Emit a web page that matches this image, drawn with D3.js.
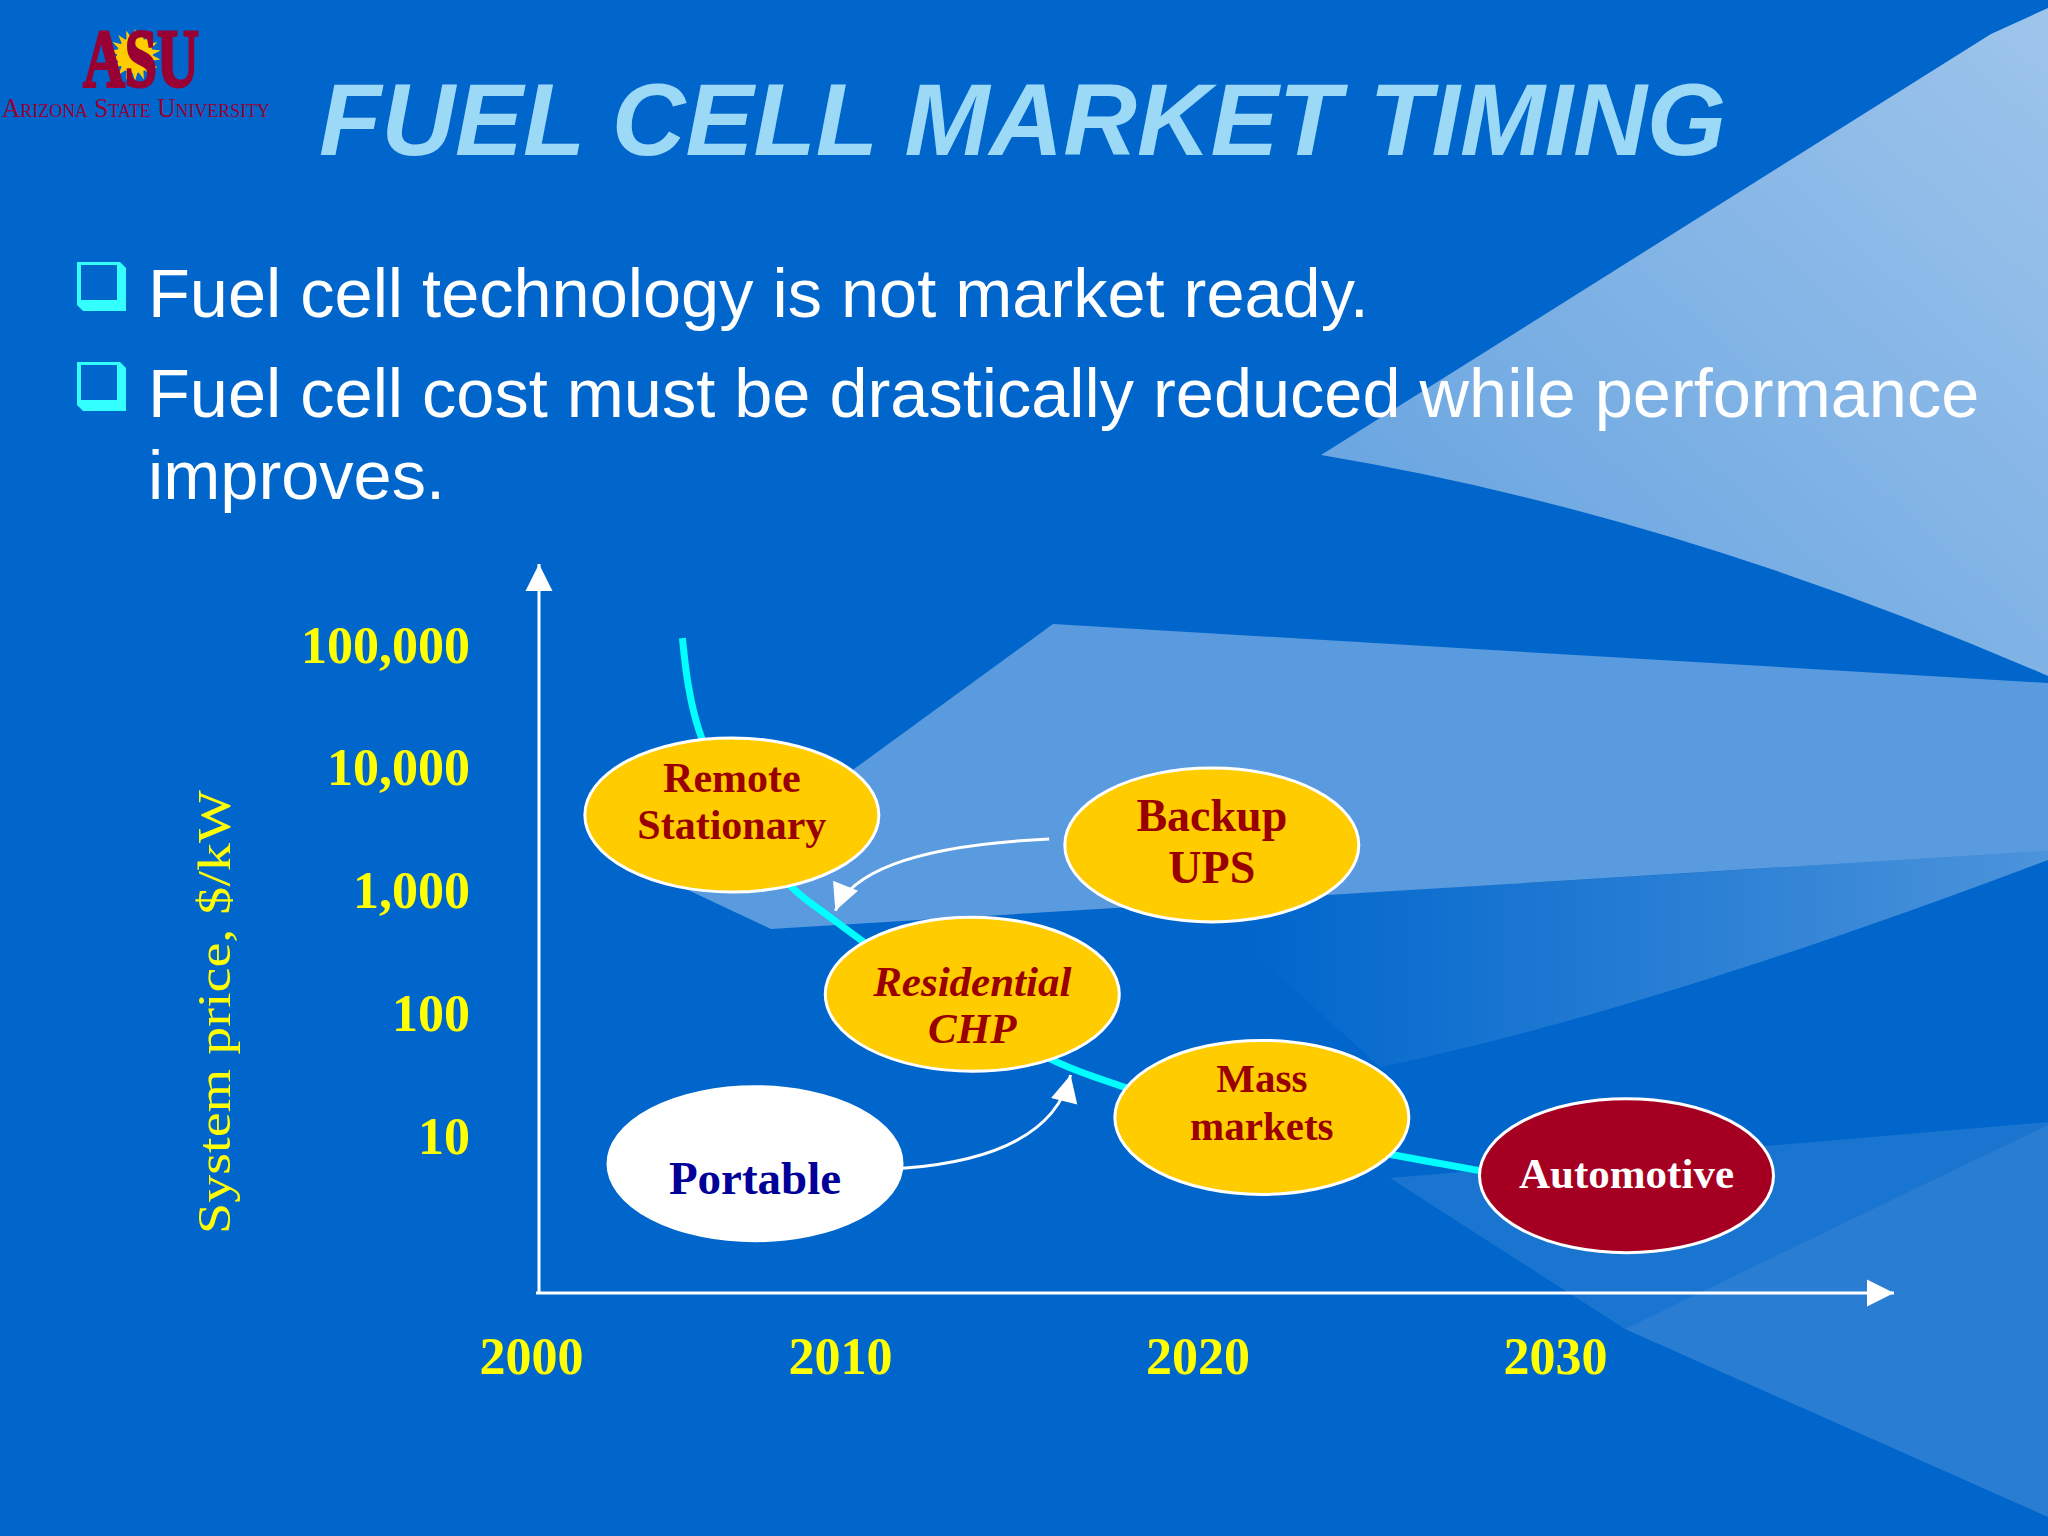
<!DOCTYPE html>
<html>
<head>
<meta charset="utf-8">
<script src="https://cdnjs.cloudflare.com/ajax/libs/d3/7.8.5/d3.min.js"></script>
<style>
  body { margin: 0; background: #0066cc; }
  svg { display: block; }
</style>
</head>
<body>
<div id="slide"></div>
<script>
// chart values
var yTicks = [10, 100, 1000, 10000, 100000];
var xTicks = [2000, 2010, 2020, 2030];

var curveYears  = [2004.9, 2005.05, 2005.25, 2005.55, 2006.85, 2008.4, 2009.65, 2013.35, 2016.1, 2018.0, 2021.6, 2025.45, 2028.0];
var curvePrices = [115000, 55000, 30000, 17000, 3900, 1100, 620, 110, 40, 25, 11.7, 7.1, 5.2];

var marketNames  = ["Remote Stationary", "Backup UPS", "Residential CHP", "Mass markets", "Portable", "Automotive"];
var marketLabels = [["Remote", "Stationary"], ["Backup", "UPS"], ["Residential", "CHP"], ["Mass", "markets"], ["Portable"], ["Automotive"]];
var marketYears  = [2006.5, 2020.4, 2013.7, 2021.8, 2007.25, 2032.0];
var marketPrices = [4160, 2370, 144, 14.3, 6.0, 4.8];

var arrowFromYears  = [2015.85, 2011.75];
var arrowFromPrices = [2650, 5.5];
var arrowToYears    = [2009.85, 2016.45];
var arrowToPrices   = [690, 31.7];

var bulletLines = ["Fuel cell technology is not market ready.",
                   "Fuel cell cost must be drastically reduced while performance",
                   "improves."];
var bulletMarks = [true, true, false];

// layout / styles
var svgWidth = 2048;
var svgHeight = 1536;
var lineY = [317, 417, 499];
var frame = { left: 539, bottom: 1293, top: 564, right: 1894, start: 536 };

var marketStyle = {
  "Remote Stationary": { fill: "#ffcc00", color: "#990000", size: 42, italic: false, first: -23, lh: 47 },
  "Backup UPS":        { fill: "#ffcc00", color: "#990000", size: 46, italic: false, first: -14, lh: 52 },
  "Residential CHP":   { fill: "#ffcc00", color: "#990000", size: 43, italic: true,  first: 2,   lh: 47 },
  "Mass markets":      { fill: "#ffcc00", color: "#990000", size: 41, italic: false, first: -25, lh: 48 },
  "Portable":          { fill: "#ffffff", color: "#000099", size: 47, italic: false, first: 30,  lh: 0 },
  "Automotive":        { fill: "#a50021", color: "#ffffff", size: 43, italic: false, first: 12,  lh: 0 }
};

var svg = d3.select("#slide")
  .append("svg")
  .attr("width", svgWidth)
  .attr("height", svgHeight);

var defs = svg.append("defs");

var gA = defs.append("linearGradient").attr("id", "gradA")
  .attr("x1", 1).attr("y1", 0).attr("x2", 0).attr("y2", 1);
gA.append("stop").attr("offset", 0).attr("stop-color", "#fff").attr("stop-opacity", 0.62);
gA.append("stop").attr("offset", 1).attr("stop-color", "#fff").attr("stop-opacity", 0.38);

var gC = defs.append("linearGradient").attr("id", "gradC")
  .attr("gradientUnits", "userSpaceOnUse")
  .attr("x1", 1250).attr("y1", 0).attr("x2", 2048).attr("y2", 0);
gC.append("stop").attr("offset", 0).attr("stop-color", "#fff").attr("stop-opacity", 0);
gC.append("stop").attr("offset", 1).attr("stop-color", "#fff").attr("stop-opacity", 0.3);

defs.append("marker")
  .attr("id", "head")
  .attr("markerUnits", "userSpaceOnUse")
  .attr("viewBox", "-28 -14 30 28")
  .attr("markerWidth", 30)
  .attr("markerHeight", 28)
  .attr("refX", 0)
  .attr("refY", 0)
  .attr("orient", "auto")
  .append("path")
  .attr("d", "M0,0L-27,-13.5L-27,13.5Z")
  .attr("fill", "#fff");

// background
svg.append("rect").attr("width", svgWidth).attr("height", svgHeight).attr("fill", "#0066cc");

var deco = svg.append("g");
deco.append("path").attr("d", "M1321,455L1991,34L2048,8L2048,676Q1675,514 1321,455Z").attr("fill", "url(#gradA)");
deco.append("path").attr("d", "M1053,624L2048,683L2048,851L771,929L688,890Z").attr("fill", "#fff").attr("opacity", 0.35);
deco.append("path").attr("d", "M1200,903L2048,851L2048,860Q1646,1012 1380,1067Z").attr("fill", "url(#gradC)");
deco.append("path").attr("d", "M1390,1178L2048,1122L2048,1125Q1909,1191 1625,1329Z").attr("fill", "#fff").attr("opacity", 0.1);
deco.append("path").attr("d", "M1625,1329Q1909,1191 2048,1125L2048,1517Z").attr("fill", "#fff").attr("opacity", 0.16);

// logo
var logo = svg.append("g");
logo.selectAll("path.ray")
  .data(d3.range(18))
  .enter()
  .append("path")
  .attr("class", "ray")
  .attr("transform", function(d) { return "translate(135,55) rotate(" + (d * 20) + ")"; })
  .attr("d", "M-3,-16L0,-26L3,-16Z")
  .attr("fill", "#ffcc00");
logo.append("circle").attr("cx", 135).attr("cy", 55).attr("r", 18).attr("fill", "#ffcc00");
logo.append("text").attr("x", 83).attr("y", 86).text("ASU")
  .attr("font-family", "Liberation Serif").attr("font-weight", "bold").attr("font-size", 82)
  .attr("fill", "#990033").attr("stroke", "#990033").attr("stroke-width", 3)
  .attr("textLength", 116).attr("lengthAdjust", "spacingAndGlyphs");
logo.append("text").attr("x", 2).attr("y", 117).text("Arizona State University")
  .attr("font-family", "Liberation Serif").attr("font-size", 27)
  .style("font-variant", "small-caps")
  .attr("fill", "#990033").attr("textLength", 268).attr("lengthAdjust", "spacingAndGlyphs");

// title
svg.append("text")
  .attr("x", 319)
  .attr("y", 155)
  .text("FUEL CELL MARKET TIMING")
  .attr("font-family", "Liberation Sans")
  .attr("font-weight", "bold")
  .attr("font-style", "italic")
  .attr("font-size", 102)
  .attr("fill", "#9bd9f6");

// bullets
var bullets = svg.selectAll("g.bullet")
  .data(bulletLines)
  .enter()
  .append("g")
  .attr("class", "bullet")
  .attr("transform", function(d, i) { return "translate(0," + lineY[i] + ")"; });

bullets.filter(function(d, i) { return bulletMarks[i]; })
  .append("path")
  .attr("d", "M77,-55L120,-55L126,-49L126,-6L83,-6L77,-12Z")
  .attr("fill", "#33ffff");
bullets.filter(function(d, i) { return bulletMarks[i]; })
  .append("rect")
  .attr("x", 81).attr("y", -52).attr("width", 36).attr("height", 35)
  .attr("fill", "#0066cc");

bullets.append("text")
  .attr("x", 148)
  .text(function(d) { return d; })
  .attr("font-family", "Liberation Sans")
  .attr("font-size", 68.5)
  .attr("fill", "#fff");

// chart
var chartGroup = svg.append("g");

var xScale = d3.scaleLinear()
  .domain([2000, 2010, 2030])
  .range([531, 840, 1555]);

var yScale = d3.scaleLog()
  .domain([10, 100000])
  .range([1136.5, 645.5]);

var leftAxis = d3.axisLeft(yScale)
  .tickValues(yTicks)
  .tickFormat(d3.format(","))
  .tickSize(0)
  .tickPadding(0);

var bottomAxis = d3.axisBottom(xScale)
  .tickValues(xTicks)
  .tickFormat(d3.format("d"))
  .tickSize(0)
  .tickPadding(0);

var yAxisG = chartGroup.append("g")
  .attr("transform", "translate(470,0)")
  .call(leftAxis);
var xAxisG = chartGroup.append("g")
  .attr("transform", "translate(0,1337)")
  .call(bottomAxis);

[yAxisG, xAxisG].forEach(function(g) {
  g.select(".domain").remove();
  g.attr("font-family", "Liberation Serif")
    .attr("font-size", 52)
    .attr("font-weight", "bold");
  g.selectAll("text").attr("fill", "#ffff00");
});

// frame arrows
chartGroup.append("line")
  .attr("x1", frame.left).attr("y1", frame.bottom)
  .attr("x2", frame.left).attr("y2", frame.top)
  .attr("stroke", "#fff").attr("stroke-width", 3)
  .attr("marker-end", "url(#head)");
chartGroup.append("line")
  .attr("x1", frame.start).attr("y1", frame.bottom)
  .attr("x2", frame.right).attr("y2", frame.bottom)
  .attr("stroke", "#fff").attr("stroke-width", 3)
  .attr("marker-end", "url(#head)");

chartGroup.append("text")
  .attr("transform", "translate(230,1012) rotate(-90)")
  .attr("text-anchor", "middle")
  .text("System price, $/kW")
  .attr("font-family", "Liberation Serif")
  .attr("font-size", 47)
  .attr("fill", "#ffff00")
  .attr("textLength", 444)
  .attr("lengthAdjust", "spacingAndGlyphs");

// cost curve
var curveData = curveYears.map(function(yr, i) { return { year: yr, price: curvePrices[i] }; });

var costLine = d3.line()
  .x(function(d) { return xScale(d.year); })
  .y(function(d) { return yScale(d.price); })
  .curve(d3.curveCatmullRom.alpha(0.5));

chartGroup.append("path")
  .datum(curveData)
  .attr("d", costLine)
  .attr("fill", "none")
  .attr("stroke", "#00ffff")
  .attr("stroke-width", 7);

// market ellipses
var markets = chartGroup.selectAll("g.market")
  .data(marketNames)
  .enter()
  .append("g")
  .attr("class", "market")
  .attr("transform", function(d, i) {
    return "translate(" + xScale(marketYears[i]) + "," + yScale(marketPrices[i]) + ")";
  });

markets.append("ellipse")
  .attr("rx", 147)
  .attr("ry", 77)
  .attr("fill", function(d) { return marketStyle[d].fill; })
  .attr("stroke", "#fff")
  .attr("stroke-width", 3);

markets.append("text")
  .attr("text-anchor", "middle")
  .attr("font-family", "Liberation Serif")
  .attr("font-weight", "bold")
  .attr("font-style", function(d) { return marketStyle[d].italic ? "italic" : "normal"; })
  .attr("font-size", function(d) { return marketStyle[d].size; })
  .attr("fill", function(d) { return marketStyle[d].color; })
  .each(function(d, i) {
    var st = marketStyle[d];
    d3.select(this).selectAll("tspan")
      .data(marketLabels[i])
      .enter()
      .append("tspan")
      .attr("x", 0)
      .attr("y", function(t, j) { return st.first + j * st.lh; })
      .text(function(t) { return t; });
  });

// arrows between markets, bent like the slide's connectors
var bend = 0.12;
var arrowPath = function(i) {
  var x0 = xScale(arrowFromYears[i]), y0 = yScale(arrowFromPrices[i]);
  var x1 = xScale(arrowToYears[i]), y1 = yScale(arrowToPrices[i]);
  var p = d3.path();
  p.moveTo(x0, y0);
  p.quadraticCurveTo(x1 + bend * (x0 - x1), y0 + bend * (y1 - y0), x1, y1);
  return p.toString();
};

chartGroup.selectAll("path.arrow")
  .data(arrowFromYears)
  .enter()
  .append("path")
  .attr("class", "arrow")
  .attr("d", function(d, i) { return arrowPath(i); })
  .attr("fill", "none")
  .attr("stroke", "#fff")
  .attr("stroke-width", 3)
  .attr("marker-end", "url(#head)");
</script>
</body>
</html>
